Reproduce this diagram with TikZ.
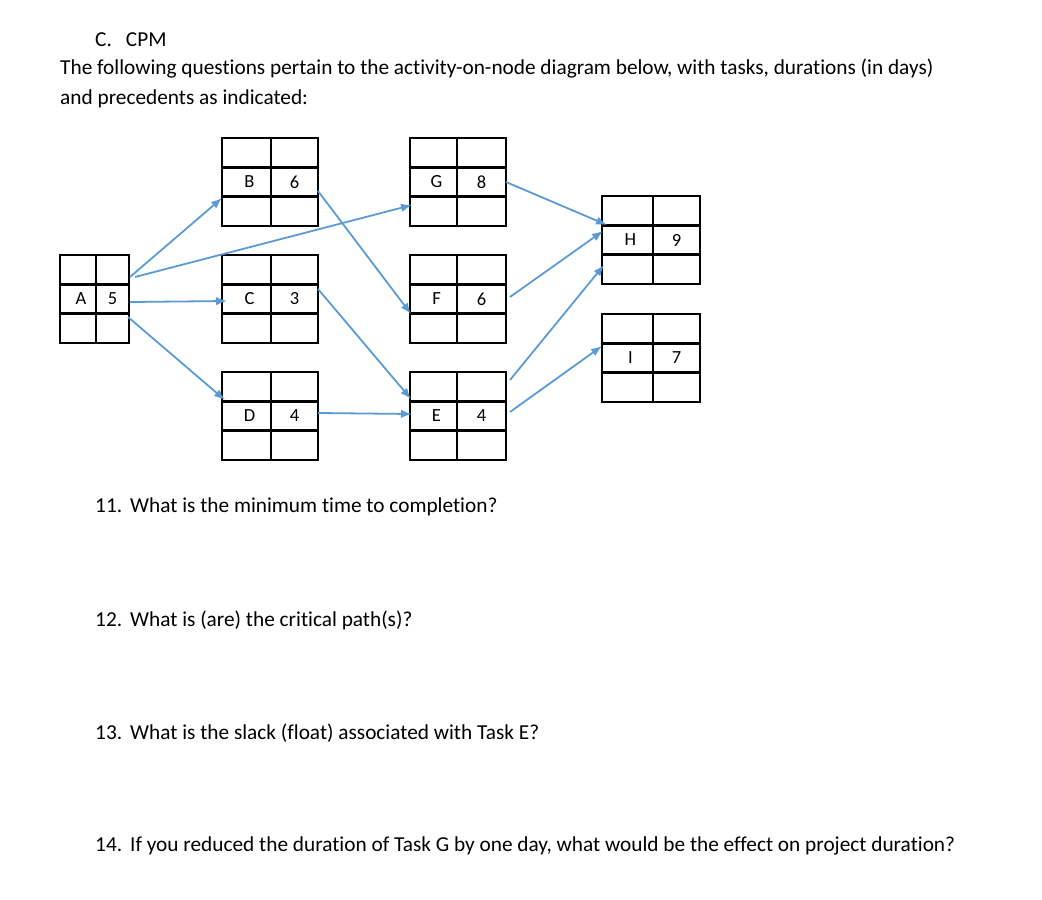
\documentclass[tikz,border=0pt]{standalone}
\usepackage{fontspec}
\setmainfont[Ligatures=NoCommon]{Carlito}
\usetikzlibrary{arrows.meta}
\definecolor{arr}{RGB}{91,155,213}
\tikzset{
  cbox/.style={draw=black,line width=2.6pt,minimum width=#1,minimum height=88pt,inner sep=0pt,outer sep=0pt},
  grid/.style={draw=black,line width=2.6pt},
  lbl/.style={font=\fontsize{18.5}{22}\selectfont,inner sep=0pt},
  txt/.style={font=\fontsize{21.3}{25}\selectfont,anchor=west,inner sep=0pt},
  conn/.style={draw=arr,line width=1.8pt,-{Latex[length=11pt,width=8.5pt]}}
}
\newcommand{\cpmbox}[7]{% name, x1, y1, x2, xm, letter, num
  \node[cbox={#4-#2}] (#1) at ({(#2+#4)/2},{#3+44}) {};
  \draw[grid] (#5,#3) -- (#5,#3+88);
  \draw[grid] (#2,#3+29.5) -- (#4,#3+29.5);
  \draw[grid] (#2,#3+58.5) -- (#4,#3+58.5);
  \node[lbl] (#1l) at ({(#2+#5)/2+3},{#3+44}) {#6};
  \node[lbl] (#1n) at ({(#5+#4)/2},{#3+44}) {#7};
}
\begin{document}
\begin{tikzpicture}[x=1pt,y=-1pt]
\useasboundingbox (0,0) rectangle (1042,900);
\node[txt] (t0) at (95,40) {C.\hspace{14pt}CPM};
\node[txt] (t1) at (60,69) {The following questions pertain to the activity-on-node diagram below, with tasks, durations (in days)};
\node[txt] (t2) at (60,99) {and precedents as indicated:};

\cpmbox{A}{60}{255}{129}{96}{A}{5}
\cpmbox{B}{222}{138}{318}{271}{B}{6}
\cpmbox{C}{222}{255}{318}{271}{C}{3}
\cpmbox{D}{222}{372}{318}{271}{D}{4}
\cpmbox{G}{410}{138}{506}{457}{G}{8}
\cpmbox{F}{410}{255}{506}{457}{F}{6}
\cpmbox{E}{410}{372}{506}{457}{E}{4}
\cpmbox{H}{602}{196}{700}{653}{H}{9}
\cpmbox{I}{602}{314}{700}{653}{I}{7}

\coordinate (a1) at (130,277); \coordinate (b1) at (222,198);
\coordinate (a2) at (135,277); \coordinate (g1) at (412,205);
\coordinate (a3) at (130,302); \coordinate (c1) at (227,301);
\coordinate (a4) at (128,317); \coordinate (d1) at (225,400);
\coordinate (b2) at (318,191); \coordinate (f1) at (411,314);
\coordinate (c2) at (318,289); \coordinate (e1) at (411,399);
\coordinate (d2) at (318,413); \coordinate (e2) at (412,414);
\coordinate (g2) at (506,182); \coordinate (h1) at (607,225);
\coordinate (f2) at (510,297); \coordinate (h2) at (603,231);
\coordinate (e3) at (510,380); \coordinate (h3) at (604,265);
\coordinate (e4) at (510,412); \coordinate (i1) at (602,346);
\foreach \s/\t in {a1/b1,a2/g1,a3/c1,a4/d1,b2/f1,c2/e1,d2/e2,g2/h1,f2/h2,e3/h3,e4/i1}
  \draw[conn] (\s) -- (\t);

\node[txt] (q1) at (95,507) {11.\hspace{8pt}What is the minimum time to completion?};
\node[txt] (q2) at (95,620) {12.\hspace{8pt}What is (are) the critical path(s)?};
\node[txt] (q3) at (95,733) {13.\hspace{8pt}What is the slack (float) associated with Task E?};
\node[txt] (q4) at (95,846) {14.\hspace{8pt}If you reduced the duration of Task G by one day, what would be the effect on project duration?};
\end{tikzpicture}
\end{document}
